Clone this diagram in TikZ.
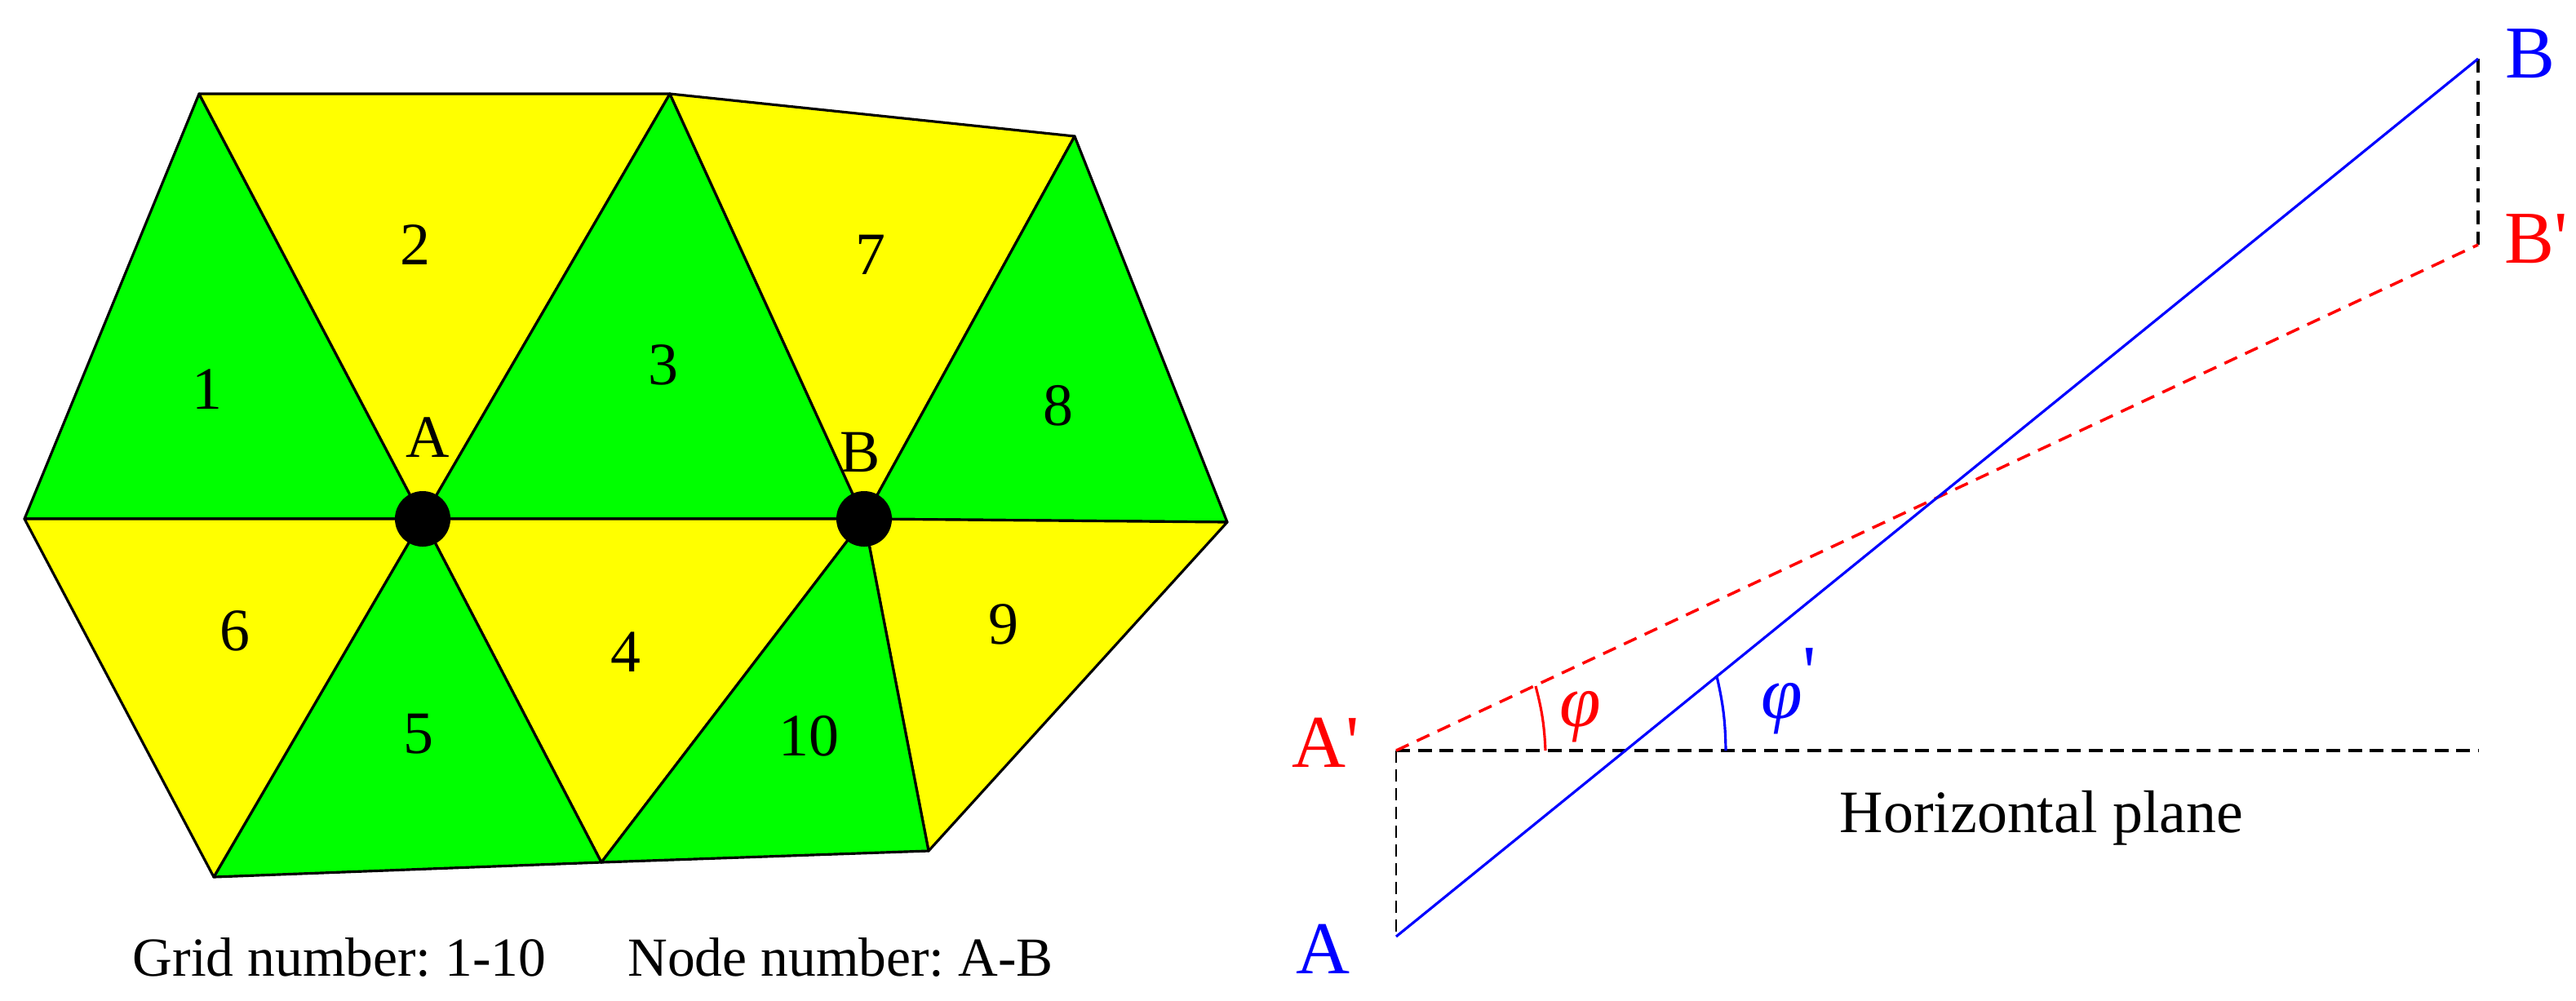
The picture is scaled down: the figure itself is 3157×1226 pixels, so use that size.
\documentclass[tikz,border=0pt]{standalone}
\usepackage{fontspec}
\setmainfont{Liberation Serif}
\frenchspacing
\definecolor{gridgreen}{RGB}{0,255,0}
\definecolor{gridyellow}{RGB}{255,255,0}
\begin{document}
\begin{tikzpicture}[x=0.01cm,y=-0.01cm,
    greencell/.style={draw=black,line width=0.9pt,line join=round,fill=gridgreen},
    yellowcell/.style={draw=black,line width=0.9pt,line join=round,fill=gridyellow},
    cellnum/.style={inner sep=0pt,font=\fontsize{21}{25}\selectfont},
    textlabel/.style={anchor=base,inner sep=0pt,font=\fontsize{21}{25}\selectfont},
    notelabel/.style={anchor=base,inner sep=0pt,font=\fontsize{19.2}{23}\selectfont},
    bigred/.style={anchor=base,inner sep=0pt,text=red,font=\fontsize{26}{30}\selectfont},
    bigblue/.style={anchor=base,inner sep=0pt,text=blue,font=\fontsize{26}{30}\selectfont},
    nodedot/.style={circle,fill=black,inner sep=0pt,minimum size=0.68cm},
    guide/.style={line width=1pt,dash pattern=on 0.17cm off 0.095cm},
    thinguide/.style={line width=0.7pt,dash pattern=on 0.15cm off 0.08cm},
    redguide/.style={red,line width=1pt,dash pattern=on 0.17cm off 0.11cm},
    blueline/.style={blue,line width=0.9pt}]
  \useasboundingbox (0,0) rectangle (3157,1226);
  \draw
    (244,115) coordinate (1)
    (821,115) coordinate (2)
    (1317,167) coordinate (3)
    (1504,640) coordinate (4)
    (1138,1043) coordinate (5)
    (737,1057) coordinate (6)
    (262,1075) coordinate (7)
    (30,636) coordinate (8)
    (518,636) coordinate (a)
    (1059,636) coordinate (b);
  \begin{scope}
    \draw[greencell] (1) -- (a) -- (8) -- cycle;
    \draw[yellowcell] (1) -- (2) -- (a) -- cycle;
    \draw[greencell] (2) -- (b) -- (a) -- cycle;
    \draw[yellowcell] (a) -- (b) -- (6) -- cycle;
    \draw[greencell] (a) -- (6) -- (7) -- cycle;
    \draw[yellowcell] (8) -- (a) -- (7) -- cycle;
    \draw[yellowcell] (2) -- (3) -- (b) -- cycle;
    \draw[greencell] (3) -- (4) -- (b) -- cycle;
    \draw[yellowcell] (b) -- (4) -- (5) -- cycle;
    \draw[greencell] (b) -- (5) -- (6) -- cycle;
  \end{scope}
  \node[nodedot] (dota) at (a) {};
  \node[nodedot] (dotb) at (b) {};
  \node[textlabel] (labela) at (524,560) {A};
  \node[textlabel] (labelb) at (1054,578) {B};
  \draw
    (254,477) node[cellnum] (g1){1}
    (509,300) node[cellnum] (g2){2}
    (813,447) node[cellnum] (g3){3}
    (767,799) node[cellnum] (g4){4}
    (513,900) node[cellnum] (g5){5}
    (288,773) node[cellnum] (g6){6}
    (1067,312) node[cellnum] (g7){7}
    (1297,497) node[cellnum] (g8){8}
    (1230,765) node[cellnum] (g9){9}
    (991,902) node[cellnum] (g10){10};
  \node[notelabel] (gridnote) at (416,1196) {Grid number: 1-10};
  \node[notelabel] (nodenote) at (1030,1196) {Node number: A-B};
  % right part
  \draw
    (1711,920) coordinate (ap)
    (1711,1148) coordinate (ab)
    (3037,300) coordinate (bp)
    (3037,72) coordinate (bb)
    (3037,920) coordinate (h)
    (1882,841) coordinate (r1)
    (1894,920) coordinate (r2)
    (2104,829) coordinate (b1)
    (2115,920) coordinate (b2);
  \draw[guide] (ap) -- (h);
  \draw[thinguide] (ap) -- (ab);
  \draw[guide] (bb) -- (bp);
  \draw[redguide] (ap) -- (bp);
  \draw[blueline] (ab) -- (bb);
  \draw[red,line width=0.9pt] (r1) to[bend left=6] (r2);
  \draw[blue,line width=0.9pt] (b1) to[bend left=6] (b2);
  \node[bigred] (ra) at (1625,940) {A\textquotesingle};
  \node[bigblue] (ba) at (1621,1193) {A};
  \node[bigblue] (bbl) at (3101,95) {B};
  \node[bigred] (rb) at (3108,322) {B\textquotesingle};
  \node[bigred] (phi) at (1937,890) {\itshape φ};
  \node[bigblue] (phip) at (2192,880) {{\itshape φ}\raisebox{0.28em}{\textquotesingle}};
  \node[textlabel] (plane) at (2502,1020) {Horizontal plane};
\end{tikzpicture}
\end{document}
